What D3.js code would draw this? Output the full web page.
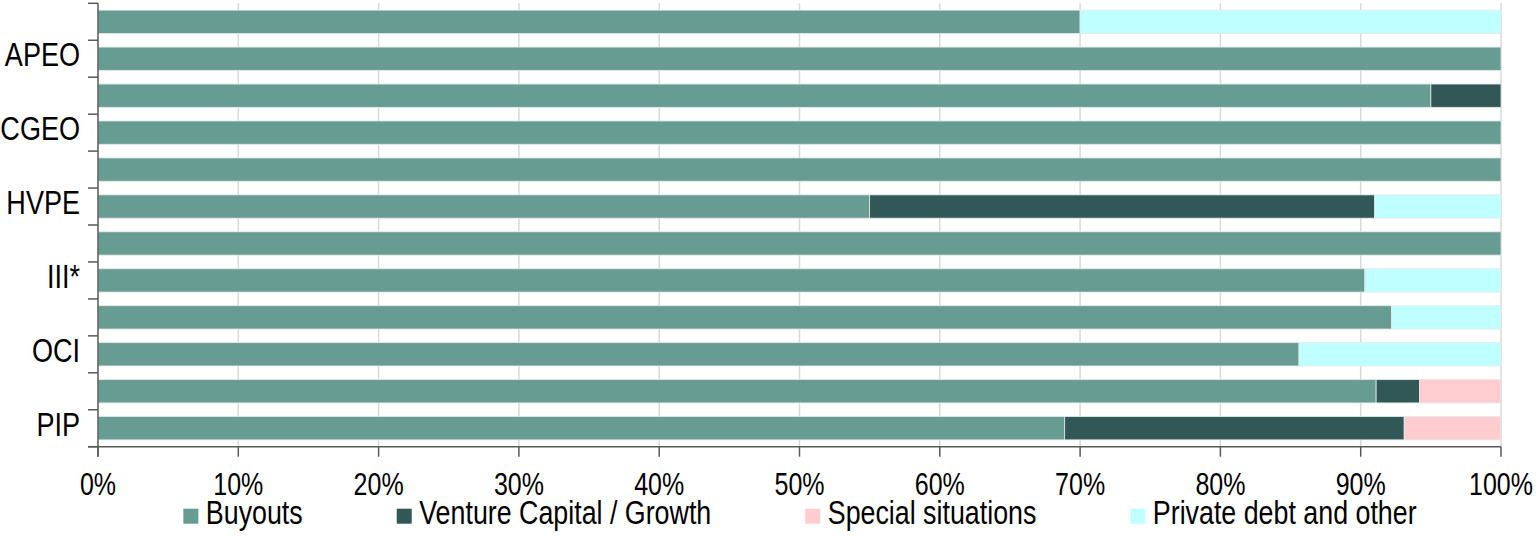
<!DOCTYPE html>
<html>
<head>
<meta charset="utf-8">
<script src="https://cdn.jsdelivr.net/npm/d3@7"></script>
<style>
  html, body { margin: 0; padding: 0; background: #fff; }
  svg { display: block; }
  text { font-family: "Liberation Sans", Arial, sans-serif; fill: #000; }
</style>
</head>
<body>
<svg id="chart" width="1536" height="536"></svg>
<script>
// ---- data ----
const categories = ["APEO", "CGEO", "HVPE", "III*", "OCI", "PIP"]; // each category has two bars
const barIds = ["APEO-1","APEO-2","CGEO-1","CGEO-2","HVPE-1","HVPE-2","III-1","III-2","OCI-1","OCI-2","PIP-1","PIP-2"];
const seriesNames = ["Buyouts", "Venture Capital / Growth", "Special situations", "Private debt and other"];
const buyouts     = [70, 100, 95, 100, 100, 55, 100, 90.3, 92.2, 85.6, 91.1, 68.9];
const venture     = [0,    0,  5,   0,   0, 36,   0,    0,    0,    0,  3.1, 24.2];
const special     = [0,    0,  0,   0,   0,  0,   0,    0,    0,    0,  5.8,  6.9];
const privateDebt = [30,   0,  0,   0,   0,  9,   0,  9.7,  7.8, 14.4,    0,    0];
const xTicks = [0, 10, 20, 30, 40, 50, 60, 70, 80, 90, 100];
const colors = ["#679c92", "#325757", "#ffccd0", "#c0ffff"];

(function () {
const NARROW = 0.82; // emulate a narrow sans face
const seriesValues = [buyouts, venture, special, privateDebt];
const table = barIds.map((id, i) => {
  const row = { id };
  seriesNames.forEach((s, k) => row[s] = seriesValues[k][i]);
  return row;
});

const svg = d3.select("#chart");
const mLeft = 98, mRight = 1501, mTop = 3.3, mBottom = 446.7;

const x = d3.scaleLinear().domain([0, 100]).range([mLeft, mRight]);
const y = d3.scaleBand().domain(barIds).range([mTop, mBottom]).paddingInner(0.37).paddingOuter(0.185);
const yEdge = d3.scaleLinear().domain([0, barIds.length]).range([mTop, mBottom]);

// gridlines
svg.append("g").selectAll("line").data(xTicks.filter(t => t > 0)).join("line")
  .attr("x1", d => x(d)).attr("x2", d => x(d))
  .attr("y1", mTop).attr("y2", mBottom)
  .attr("stroke", "#d9d9d9").attr("stroke-width", 1.5);

// bars
const stack = d3.stack().keys(seriesNames)(table);
svg.append("g").selectAll("g").data(stack).join("g")
  .attr("fill", (d, i) => colors[i])
  .selectAll("rect").data(d => d.filter(p => p[1] - p[0] > 0)).join("rect")
  .attr("x", d => x(d[0]))
  .attr("width", d => x(d[1]) - x(d[0]))
  .attr("y", d => y(d.data.id))
  .attr("height", y.bandwidth())
  .attr("stroke", "#e3e8e7").attr("stroke-width", 0.8);

// y axis
const axisColor = "#595959";
svg.append("line").attr("x1", mLeft).attr("x2", mLeft).attr("y1", mTop).attr("y2", mBottom + 10)
  .attr("stroke", axisColor).attr("stroke-width", 1.5);
svg.append("g").selectAll("line").data(d3.range(barIds.length + 1)).join("line")
  .attr("x1", mLeft - 10).attr("x2", mLeft)
  .attr("y1", d => yEdge(d)).attr("y2", d => yEdge(d))
  .attr("stroke", axisColor).attr("stroke-width", 1.5);

// category labels (on second bar of each pair)
svg.append("g").selectAll("text").data(categories).join("text")
  .attr("transform", (d, i) => `translate(80,${y(barIds[i * 2 + 1]) + y.bandwidth() / 2 - 4}) scale(${NARROW},1)`)
  .attr("text-anchor", "end")
  .attr("dominant-baseline", "central")
  .attr("font-size", 33)
  .text(d => d);

// x axis
svg.append("line").attr("x1", mLeft - 10).attr("x2", mRight).attr("y1", mBottom).attr("y2", mBottom)
  .attr("stroke", axisColor).attr("stroke-width", 1.5);
svg.append("g").selectAll("line").data(xTicks).join("line")
  .attr("x1", d => x(d)).attr("x2", d => x(d))
  .attr("y1", mBottom).attr("y2", mBottom + 10)
  .attr("stroke", axisColor).attr("stroke-width", 1.5);
svg.append("g").selectAll("text").data(xTicks).join("text")
  .attr("transform", d => `translate(${x(d)},495) scale(${NARROW},1)`)
  .attr("text-anchor", "middle")
  .attr("font-size", 30.5)
  .text(d => d + "%");

// legend
const legend = svg.append("g");
const items = legend.selectAll("g").data(seriesNames).join("g");
items.append("rect").attr("width", 15).attr("height", 15).attr("y", 508.7)
  .attr("fill", (d, i) => colors[i]);
items.append("text").attr("transform", `translate(22.5,524) scale(${NARROW},1)`)
  .attr("font-size", 32.7).text(d => d);
const widths = [];
items.each(function () { widths.push(this.getBBox().width); });
const gap = 94;
const total = d3.sum(widths) + gap * (widths.length - 1);
let cx = 800 - total / 2;
items.attr("transform", (d, i) => {
  const t = `translate(${cx},0)`;
  cx += widths[i] + gap;
  return t;
});
})();
</script>
</body>
</html>
